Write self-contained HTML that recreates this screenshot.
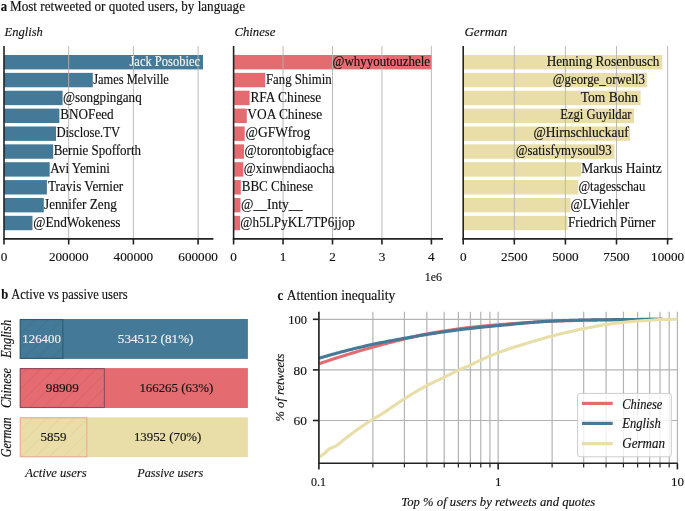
<!DOCTYPE html>
<html><head><meta charset="utf-8"><title>Retweet language figure</title>
<style>
html,body{margin:0;padding:0;background:#ffffff;}
body{width:685px;height:511px;overflow:hidden;}
svg{display:block;font-family:"Liberation Serif","Noto Serif CJK SC",serif;}
</style></head><body>
<svg width="685" height="511" viewBox="0 0 685 511">
<rect width="685" height="511" fill="#ffffff"/>
<text x="0.80" y="11.00" font-size="14.0" text-anchor="start" font-weight="bold" fill="#111111" stroke="#111111" stroke-width="0.15" textLength="6.40" lengthAdjust="spacingAndGlyphs">a</text>
<text x="10.00" y="11.00" font-size="14.0" text-anchor="start" fill="#111111" stroke="#111111" stroke-width="0.15" textLength="235.00" lengthAdjust="spacingAndGlyphs">Most retweeted or quoted users, by language</text>
<text x="4.60" y="35.90" font-size="13.4" text-anchor="start" font-style="italic" fill="#111111" stroke="#111111" stroke-width="0.15" textLength="38.30" lengthAdjust="spacingAndGlyphs">English</text>
<rect x="4.00" y="55.00" width="199.00" height="14.4" fill="#447a97"/>
<rect x="4.00" y="72.87" width="88.80" height="14.4" fill="#447a97"/>
<rect x="4.00" y="90.74" width="58.60" height="14.4" fill="#447a97"/>
<rect x="4.00" y="108.61" width="55.40" height="14.4" fill="#447a97"/>
<rect x="4.00" y="126.48" width="52.00" height="14.4" fill="#447a97"/>
<rect x="4.00" y="144.35" width="49.20" height="14.4" fill="#447a97"/>
<rect x="4.00" y="162.22" width="45.70" height="14.4" fill="#447a97"/>
<rect x="4.00" y="180.09" width="42.90" height="14.4" fill="#447a97"/>
<rect x="4.00" y="197.96" width="39.80" height="14.4" fill="#447a97"/>
<rect x="4.00" y="215.83" width="28.50" height="14.4" fill="#447a97"/>
<line x1="68.70" y1="46.0" x2="68.70" y2="238.9" stroke="#b3b3b3" stroke-width="0.9"/>
<line x1="133.40" y1="46.0" x2="133.40" y2="238.9" stroke="#b3b3b3" stroke-width="0.9"/>
<line x1="198.10" y1="46.0" x2="198.10" y2="238.9" stroke="#b3b3b3" stroke-width="0.9"/>
<text x="129.50" y="65.85" font-size="14.2" text-anchor="start" fill="#f4f4f4" stroke="#f4f4f4" stroke-width="0.15" textLength="70.50" lengthAdjust="spacingAndGlyphs">Jack Posobiec</text>
<text x="93.20" y="83.72" font-size="14.2" text-anchor="start" fill="#111111" stroke="#111111" stroke-width="0.15" textLength="75.70" lengthAdjust="spacingAndGlyphs">James Melville</text>
<text x="62.90" y="101.59" font-size="14.2" text-anchor="start" fill="#111111" stroke="#111111" stroke-width="0.15" textLength="78.80" lengthAdjust="spacingAndGlyphs">@songpinganq</text>
<text x="60.30" y="119.46" font-size="14.2" text-anchor="start" fill="#111111" stroke="#111111" stroke-width="0.15" textLength="53.40" lengthAdjust="spacingAndGlyphs">BNOFeed</text>
<text x="56.40" y="137.33" font-size="14.2" text-anchor="start" fill="#111111" stroke="#111111" stroke-width="0.15" textLength="63.80" lengthAdjust="spacingAndGlyphs">Disclose.TV</text>
<text x="53.70" y="155.20" font-size="14.2" text-anchor="start" fill="#111111" stroke="#111111" stroke-width="0.15" textLength="87.30" lengthAdjust="spacingAndGlyphs">Bernie Spofforth</text>
<text x="50.30" y="173.07" font-size="14.2" text-anchor="start" fill="#111111" stroke="#111111" stroke-width="0.15" textLength="59.70" lengthAdjust="spacingAndGlyphs">Avi Yemini</text>
<text x="48.00" y="190.94" font-size="14.2" text-anchor="start" fill="#111111" stroke="#111111" stroke-width="0.15" textLength="75.20" lengthAdjust="spacingAndGlyphs">Travis Vernier</text>
<text x="44.00" y="208.81" font-size="14.2" text-anchor="start" fill="#111111" stroke="#111111" stroke-width="0.15" textLength="72.90" lengthAdjust="spacingAndGlyphs">Jennifer Zeng</text>
<text x="33.20" y="226.68" font-size="14.2" text-anchor="start" fill="#111111" stroke="#111111" stroke-width="0.15" textLength="87.30" lengthAdjust="spacingAndGlyphs">@EndWokeness</text>
<line x1="4.00" y1="46.0" x2="4.00" y2="239.70000000000002" stroke="#222222" stroke-width="1.6"/>
<line x1="3.20" y1="238.9" x2="213.40" y2="238.9" stroke="#222222" stroke-width="1.6"/>
<line x1="4.00" y1="238.9" x2="4.00" y2="244.5" stroke="#222222" stroke-width="1.6"/>
<text x="4.00" y="261.30" font-size="13.0" text-anchor="middle" fill="#111111" stroke="#111111" stroke-width="0.15" textLength="6.60" lengthAdjust="spacingAndGlyphs">0</text>
<line x1="68.70" y1="238.9" x2="68.70" y2="244.5" stroke="#222222" stroke-width="1.6"/>
<text x="68.70" y="261.30" font-size="13.0" text-anchor="middle" fill="#111111" stroke="#111111" stroke-width="0.15" textLength="39.60" lengthAdjust="spacingAndGlyphs">200000</text>
<line x1="133.40" y1="238.9" x2="133.40" y2="244.5" stroke="#222222" stroke-width="1.6"/>
<text x="133.40" y="261.30" font-size="13.0" text-anchor="middle" fill="#111111" stroke="#111111" stroke-width="0.15" textLength="39.60" lengthAdjust="spacingAndGlyphs">400000</text>
<line x1="198.10" y1="238.9" x2="198.10" y2="244.5" stroke="#222222" stroke-width="1.6"/>
<text x="198.10" y="261.30" font-size="13.0" text-anchor="middle" fill="#111111" stroke="#111111" stroke-width="0.15" textLength="39.60" lengthAdjust="spacingAndGlyphs">600000</text>
<text x="234.40" y="35.90" font-size="13.4" text-anchor="start" font-style="italic" fill="#111111" stroke="#111111" stroke-width="0.15" textLength="41.10" lengthAdjust="spacingAndGlyphs">Chinese</text>
<rect x="233.60" y="55.00" width="198.40" height="14.4" fill="#e46b70"/>
<rect x="233.60" y="72.87" width="31.60" height="14.4" fill="#e46b70"/>
<rect x="233.60" y="90.74" width="16.00" height="14.4" fill="#e46b70"/>
<rect x="233.60" y="108.61" width="13.20" height="14.4" fill="#e46b70"/>
<rect x="233.60" y="126.48" width="11.10" height="14.4" fill="#e46b70"/>
<rect x="233.60" y="144.35" width="10.40" height="14.4" fill="#e46b70"/>
<rect x="233.60" y="162.22" width="9.70" height="14.4" fill="#e46b70"/>
<rect x="233.60" y="180.09" width="7.20" height="14.4" fill="#e46b70"/>
<rect x="233.60" y="197.96" width="6.90" height="14.4" fill="#e46b70"/>
<rect x="233.60" y="215.83" width="6.60" height="14.4" fill="#e46b70"/>
<line x1="283.05" y1="46.0" x2="283.05" y2="238.9" stroke="#b3b3b3" stroke-width="0.9"/>
<line x1="332.50" y1="46.0" x2="332.50" y2="238.9" stroke="#b3b3b3" stroke-width="0.9"/>
<line x1="381.95" y1="46.0" x2="381.95" y2="238.9" stroke="#b3b3b3" stroke-width="0.9"/>
<line x1="431.40" y1="46.0" x2="431.40" y2="238.9" stroke="#b3b3b3" stroke-width="0.9"/>
<text x="332.60" y="65.85" font-size="14.2" text-anchor="start" fill="#111111" stroke="#111111" stroke-width="0.15" textLength="97.40" lengthAdjust="spacingAndGlyphs">@whyyoutouzhele</text>
<text x="266.00" y="83.72" font-size="14.2" text-anchor="start" fill="#111111" stroke="#111111" stroke-width="0.15" textLength="65.70" lengthAdjust="spacingAndGlyphs">Fang Shimin</text>
<text x="250.40" y="101.59" font-size="14.2" text-anchor="start" fill="#111111" stroke="#111111" stroke-width="0.15" textLength="70.80" lengthAdjust="spacingAndGlyphs">RFA Chinese</text>
<text x="247.30" y="119.46" font-size="14.2" text-anchor="start" fill="#111111" stroke="#111111" stroke-width="0.15" textLength="74.80" lengthAdjust="spacingAndGlyphs">VOA Chinese</text>
<text x="245.50" y="137.33" font-size="14.2" text-anchor="start" fill="#111111" stroke="#111111" stroke-width="0.15" textLength="64.80" lengthAdjust="spacingAndGlyphs">@GFWfrog</text>
<text x="244.60" y="155.20" font-size="14.2" text-anchor="start" fill="#111111" stroke="#111111" stroke-width="0.15" textLength="89.40" lengthAdjust="spacingAndGlyphs">@torontobigface</text>
<text x="243.80" y="173.07" font-size="14.2" text-anchor="start" fill="#111111" stroke="#111111" stroke-width="0.15" textLength="90.70" lengthAdjust="spacingAndGlyphs">@xinwendiaocha</text>
<text x="241.70" y="190.94" font-size="14.2" text-anchor="start" fill="#111111" stroke="#111111" stroke-width="0.15" textLength="71.30" lengthAdjust="spacingAndGlyphs">BBC Chinese</text>
<text x="241.10" y="208.81" font-size="14.2" text-anchor="start" fill="#111111" stroke="#111111" stroke-width="0.15" textLength="61.30" lengthAdjust="spacingAndGlyphs">@__Inty__</text>
<text x="240.30" y="226.68" font-size="14.2" text-anchor="start" fill="#111111" stroke="#111111" stroke-width="0.15" textLength="114.60" lengthAdjust="spacingAndGlyphs">@h5LPyKL7TP6jjop</text>
<line x1="233.60" y1="46.0" x2="233.60" y2="239.70000000000002" stroke="#222222" stroke-width="1.6"/>
<line x1="232.80" y1="238.9" x2="443.00" y2="238.9" stroke="#222222" stroke-width="1.6"/>
<line x1="233.60" y1="238.9" x2="233.60" y2="244.5" stroke="#222222" stroke-width="1.6"/>
<text x="233.60" y="261.30" font-size="13.0" text-anchor="middle" fill="#111111" stroke="#111111" stroke-width="0.15" textLength="6.60" lengthAdjust="spacingAndGlyphs">0</text>
<line x1="283.05" y1="238.9" x2="283.05" y2="244.5" stroke="#222222" stroke-width="1.6"/>
<text x="283.05" y="261.30" font-size="13.0" text-anchor="middle" fill="#111111" stroke="#111111" stroke-width="0.15" textLength="6.60" lengthAdjust="spacingAndGlyphs">1</text>
<line x1="332.50" y1="238.9" x2="332.50" y2="244.5" stroke="#222222" stroke-width="1.6"/>
<text x="332.50" y="261.30" font-size="13.0" text-anchor="middle" fill="#111111" stroke="#111111" stroke-width="0.15" textLength="6.60" lengthAdjust="spacingAndGlyphs">2</text>
<line x1="381.95" y1="238.9" x2="381.95" y2="244.5" stroke="#222222" stroke-width="1.6"/>
<text x="381.95" y="261.30" font-size="13.0" text-anchor="middle" fill="#111111" stroke="#111111" stroke-width="0.15" textLength="6.60" lengthAdjust="spacingAndGlyphs">3</text>
<line x1="431.40" y1="238.9" x2="431.40" y2="244.5" stroke="#222222" stroke-width="1.6"/>
<text x="431.40" y="261.30" font-size="13.0" text-anchor="middle" fill="#111111" stroke="#111111" stroke-width="0.15" textLength="6.60" lengthAdjust="spacingAndGlyphs">4</text>
<text x="464.40" y="35.90" font-size="13.4" text-anchor="start" font-style="italic" fill="#111111" stroke="#111111" stroke-width="0.15" textLength="42.90" lengthAdjust="spacingAndGlyphs">German</text>
<rect x="463.20" y="55.00" width="199.00" height="14.4" fill="#e9dea8"/>
<rect x="463.20" y="72.87" width="183.70" height="14.4" fill="#e9dea8"/>
<rect x="463.20" y="90.74" width="177.40" height="14.4" fill="#e9dea8"/>
<rect x="463.20" y="108.61" width="170.80" height="14.4" fill="#e9dea8"/>
<rect x="463.20" y="126.48" width="166.80" height="14.4" fill="#e9dea8"/>
<rect x="463.20" y="144.35" width="151.30" height="14.4" fill="#e9dea8"/>
<rect x="463.20" y="162.22" width="117.80" height="14.4" fill="#e9dea8"/>
<rect x="463.20" y="180.09" width="115.00" height="14.4" fill="#e9dea8"/>
<rect x="463.20" y="197.96" width="107.30" height="14.4" fill="#e9dea8"/>
<rect x="463.20" y="215.83" width="104.30" height="14.4" fill="#e9dea8"/>
<line x1="514.30" y1="46.0" x2="514.30" y2="238.9" stroke="#b3b3b3" stroke-width="0.9"/>
<line x1="565.40" y1="46.0" x2="565.40" y2="238.9" stroke="#b3b3b3" stroke-width="0.9"/>
<line x1="616.50" y1="46.0" x2="616.50" y2="238.9" stroke="#b3b3b3" stroke-width="0.9"/>
<line x1="667.60" y1="46.0" x2="667.60" y2="238.9" stroke="#b3b3b3" stroke-width="0.9"/>
<text x="546.70" y="65.85" font-size="14.2" text-anchor="start" fill="#111111" stroke="#111111" stroke-width="0.15" textLength="112.80" lengthAdjust="spacingAndGlyphs">Henning Rosenbusch</text>
<text x="552.70" y="83.72" font-size="14.2" text-anchor="start" fill="#111111" stroke="#111111" stroke-width="0.15" textLength="92.30" lengthAdjust="spacingAndGlyphs">@george_orwell3</text>
<text x="580.80" y="101.59" font-size="14.2" text-anchor="start" fill="#111111" stroke="#111111" stroke-width="0.15" textLength="57.20" lengthAdjust="spacingAndGlyphs">Tom Bohn</text>
<text x="560.20" y="119.46" font-size="14.2" text-anchor="start" fill="#111111" stroke="#111111" stroke-width="0.15" textLength="71.30" lengthAdjust="spacingAndGlyphs">Ezgi Guyildar</text>
<text x="533.40" y="137.33" font-size="14.2" text-anchor="start" fill="#111111" stroke="#111111" stroke-width="0.15" textLength="95.30" lengthAdjust="spacingAndGlyphs">@Hirnschluckauf</text>
<text x="515.80" y="155.20" font-size="14.2" text-anchor="start" fill="#111111" stroke="#111111" stroke-width="0.15" textLength="95.80" lengthAdjust="spacingAndGlyphs">@satisfymysoul93</text>
<text x="581.30" y="173.07" font-size="14.2" text-anchor="start" fill="#111111" stroke="#111111" stroke-width="0.15" textLength="80.40" lengthAdjust="spacingAndGlyphs">Markus Haintz</text>
<text x="578.40" y="190.94" font-size="14.2" text-anchor="start" fill="#111111" stroke="#111111" stroke-width="0.15" textLength="66.90" lengthAdjust="spacingAndGlyphs">@tagesschau</text>
<text x="570.50" y="208.81" font-size="14.2" text-anchor="start" fill="#111111" stroke="#111111" stroke-width="0.15" textLength="58.70" lengthAdjust="spacingAndGlyphs">@LViehler</text>
<text x="567.90" y="226.68" font-size="14.2" text-anchor="start" fill="#111111" stroke="#111111" stroke-width="0.15" textLength="87.60" lengthAdjust="spacingAndGlyphs">Friedrich Pürner</text>
<line x1="463.20" y1="46.0" x2="463.20" y2="239.70000000000002" stroke="#222222" stroke-width="1.6"/>
<line x1="462.40" y1="238.9" x2="672.60" y2="238.9" stroke="#222222" stroke-width="1.6"/>
<line x1="463.20" y1="238.9" x2="463.20" y2="244.5" stroke="#222222" stroke-width="1.6"/>
<text x="463.20" y="261.30" font-size="13.0" text-anchor="middle" fill="#111111" stroke="#111111" stroke-width="0.15" textLength="6.60" lengthAdjust="spacingAndGlyphs">0</text>
<line x1="514.30" y1="238.9" x2="514.30" y2="244.5" stroke="#222222" stroke-width="1.6"/>
<text x="514.30" y="261.30" font-size="13.0" text-anchor="middle" fill="#111111" stroke="#111111" stroke-width="0.15" textLength="26.40" lengthAdjust="spacingAndGlyphs">2500</text>
<line x1="565.40" y1="238.9" x2="565.40" y2="244.5" stroke="#222222" stroke-width="1.6"/>
<text x="565.40" y="261.30" font-size="13.0" text-anchor="middle" fill="#111111" stroke="#111111" stroke-width="0.15" textLength="26.40" lengthAdjust="spacingAndGlyphs">5000</text>
<line x1="616.50" y1="238.9" x2="616.50" y2="244.5" stroke="#222222" stroke-width="1.6"/>
<text x="616.50" y="261.30" font-size="13.0" text-anchor="middle" fill="#111111" stroke="#111111" stroke-width="0.15" textLength="26.40" lengthAdjust="spacingAndGlyphs">7500</text>
<line x1="667.60" y1="238.9" x2="667.60" y2="244.5" stroke="#222222" stroke-width="1.6"/>
<text x="667.60" y="261.30" font-size="13.0" text-anchor="middle" fill="#111111" stroke="#111111" stroke-width="0.15" textLength="33.00" lengthAdjust="spacingAndGlyphs">10000</text>
<text x="442.00" y="281.00" font-size="13.0" text-anchor="end" fill="#111111" stroke="#111111" stroke-width="0.15" textLength="17.20" lengthAdjust="spacingAndGlyphs">1e6</text>
<text x="1.20" y="299.40" font-size="14.0" text-anchor="start" font-weight="bold" fill="#111111" stroke="#111111" stroke-width="0.15" textLength="7.00" lengthAdjust="spacingAndGlyphs">b</text>
<text x="11.30" y="299.40" font-size="14.0" text-anchor="start" fill="#111111" stroke="#111111" stroke-width="0.15" textLength="116.20" lengthAdjust="spacingAndGlyphs">Active vs passive users</text>
<defs>
<clipPath id="clipEnglish"><rect x="19.8" y="319.0" width="43.62" height="39.9"/></clipPath>
<clipPath id="clipChinese"><rect x="19.8" y="368.1" width="85.08" height="39.9"/></clipPath>
<clipPath id="clipGerman"><rect x="19.8" y="417.3" width="67.46" height="39.9"/></clipPath>
</defs>
<rect x="19.8" y="319.0" width="228.1" height="39.9" fill="#447a97"/>
<path d="M-18.30,358.90L21.60,319.00M-4.50,358.90L35.40,319.00M9.30,358.90L49.20,319.00M23.10,358.90L63.00,319.00M36.90,358.90L76.80,319.00M50.70,358.90L90.60,319.00M64.50,358.90L104.40,319.00" stroke="#2f5d75" stroke-opacity="0.22" stroke-width="0.9" fill="none" clip-path="url(#clipEnglish)"/>
<rect x="20.30" y="319.50" width="42.62" height="38.9" fill="none" stroke="#2f5d75" stroke-width="1.1"/>
<text x="41.61" y="342.70" font-size="13.4" text-anchor="middle" fill="#f2f2f2" stroke="#f2f2f2" stroke-width="0.15" textLength="38.60" lengthAdjust="spacingAndGlyphs">126400</text>
<text x="155.66" y="342.70" font-size="13.4" text-anchor="middle" fill="#f2f2f2" stroke="#f2f2f2" stroke-width="0.15" textLength="75.60" lengthAdjust="spacingAndGlyphs">534512 (81%)</text>
<text x="11.00" y="338.90" font-size="13.6" text-anchor="middle" font-style="italic" fill="#111111" stroke="#111111" stroke-width="0.15" textLength="38.10" lengthAdjust="spacingAndGlyphs" transform="rotate(-90 11.0 338.9)">English</text>
<rect x="19.8" y="368.1" width="228.1" height="39.9" fill="#e46b70"/>
<path d="M-12.20,408.00L27.70,368.10M1.60,408.00L41.50,368.10M15.40,408.00L55.30,368.10M29.20,408.00L69.10,368.10M43.00,408.00L82.90,368.10M56.80,408.00L96.70,368.10M70.60,408.00L110.50,368.10M84.40,408.00L124.30,368.10M98.20,408.00L138.10,368.10" stroke="#96485f" stroke-opacity="0.22" stroke-width="0.9" fill="none" clip-path="url(#clipChinese)"/>
<rect x="20.30" y="368.60" width="84.08" height="38.9" fill="none" stroke="#96485f" stroke-width="1.1"/>
<text x="62.34" y="391.80" font-size="13.4" text-anchor="middle" fill="#111111" stroke="#111111" stroke-width="0.15" textLength="33.00" lengthAdjust="spacingAndGlyphs">98909</text>
<text x="176.39" y="391.80" font-size="13.4" text-anchor="middle" fill="#111111" stroke="#111111" stroke-width="0.15" textLength="74.00" lengthAdjust="spacingAndGlyphs">166265 (63%)</text>
<text x="11.00" y="388.00" font-size="13.6" text-anchor="middle" font-style="italic" fill="#111111" stroke="#111111" stroke-width="0.15" textLength="39.90" lengthAdjust="spacingAndGlyphs" transform="rotate(-90 11.0 388.0)">Chinese</text>
<rect x="19.8" y="417.3" width="228.1" height="39.9" fill="#e9dea8"/>
<path d="M-20.00,457.20L19.90,417.30M-6.20,457.20L33.70,417.30M7.60,457.20L47.50,417.30M21.40,457.20L61.30,417.30M35.20,457.20L75.10,417.30M49.00,457.20L88.90,417.30M62.80,457.20L102.70,417.30M76.60,457.20L116.50,417.30" stroke="#e8ac98" stroke-opacity="0.3" stroke-width="0.9" fill="none" clip-path="url(#clipGerman)"/>
<rect x="20.30" y="417.80" width="66.46" height="38.9" fill="none" stroke="#e8ac98" stroke-width="1.1"/>
<text x="53.53" y="441.20" font-size="13.4" text-anchor="middle" fill="#111111" stroke="#111111" stroke-width="0.15" textLength="26.00" lengthAdjust="spacingAndGlyphs">5859</text>
<text x="167.58" y="441.20" font-size="13.4" text-anchor="middle" fill="#111111" stroke="#111111" stroke-width="0.15" textLength="67.40" lengthAdjust="spacingAndGlyphs">13952 (70%)</text>
<text x="11.00" y="437.40" font-size="13.6" text-anchor="middle" font-style="italic" fill="#111111" stroke="#111111" stroke-width="0.15" textLength="39.90" lengthAdjust="spacingAndGlyphs" transform="rotate(-90 11.0 437.4)">German</text>
<text x="56.00" y="477.00" font-size="13.4" text-anchor="middle" font-style="italic" fill="#111111" stroke="#111111" stroke-width="0.15" textLength="61.30" lengthAdjust="spacingAndGlyphs">Active users</text>
<text x="170.20" y="477.00" font-size="13.4" text-anchor="middle" font-style="italic" fill="#111111" stroke="#111111" stroke-width="0.15" textLength="66.00" lengthAdjust="spacingAndGlyphs">Passive users</text>
<text x="277.40" y="300.00" font-size="14.0" text-anchor="start" font-weight="bold" fill="#111111" stroke="#111111" stroke-width="0.15" textLength="5.60" lengthAdjust="spacingAndGlyphs">c</text>
<text x="286.70" y="300.00" font-size="14.0" text-anchor="start" fill="#111111" stroke="#111111" stroke-width="0.15" textLength="108.50" lengthAdjust="spacingAndGlyphs">Attention inequality</text>
<line x1="318.90" y1="311.7" x2="318.90" y2="463.2" stroke="#b3b3b3" stroke-width="1.2"/>
<line x1="372.86" y1="311.7" x2="372.86" y2="463.2" stroke="#b3b3b3" stroke-width="1.2"/>
<line x1="404.42" y1="311.7" x2="404.42" y2="463.2" stroke="#b3b3b3" stroke-width="1.2"/>
<line x1="426.82" y1="311.7" x2="426.82" y2="463.2" stroke="#b3b3b3" stroke-width="1.2"/>
<line x1="444.19" y1="311.7" x2="444.19" y2="463.2" stroke="#b3b3b3" stroke-width="1.2"/>
<line x1="458.38" y1="311.7" x2="458.38" y2="463.2" stroke="#b3b3b3" stroke-width="1.2"/>
<line x1="470.38" y1="311.7" x2="470.38" y2="463.2" stroke="#b3b3b3" stroke-width="1.2"/>
<line x1="480.78" y1="311.7" x2="480.78" y2="463.2" stroke="#b3b3b3" stroke-width="1.2"/>
<line x1="489.95" y1="311.7" x2="489.95" y2="463.2" stroke="#b3b3b3" stroke-width="1.2"/>
<line x1="498.15" y1="311.7" x2="498.15" y2="463.2" stroke="#b3b3b3" stroke-width="1.2"/>
<line x1="552.11" y1="311.7" x2="552.11" y2="463.2" stroke="#b3b3b3" stroke-width="1.2"/>
<line x1="583.67" y1="311.7" x2="583.67" y2="463.2" stroke="#b3b3b3" stroke-width="1.2"/>
<line x1="606.07" y1="311.7" x2="606.07" y2="463.2" stroke="#b3b3b3" stroke-width="1.2"/>
<line x1="623.44" y1="311.7" x2="623.44" y2="463.2" stroke="#b3b3b3" stroke-width="1.2"/>
<line x1="637.63" y1="311.7" x2="637.63" y2="463.2" stroke="#b3b3b3" stroke-width="1.2"/>
<line x1="649.63" y1="311.7" x2="649.63" y2="463.2" stroke="#b3b3b3" stroke-width="1.2"/>
<line x1="660.03" y1="311.7" x2="660.03" y2="463.2" stroke="#b3b3b3" stroke-width="1.2"/>
<line x1="669.20" y1="311.7" x2="669.20" y2="463.2" stroke="#b3b3b3" stroke-width="1.2"/>
<line x1="677.40" y1="311.7" x2="677.40" y2="463.2" stroke="#b3b3b3" stroke-width="1.2"/>
<line x1="318.9" y1="420.50" x2="677.4" y2="420.50" stroke="#b3b3b3" stroke-width="1.2"/>
<line x1="318.9" y1="369.90" x2="677.4" y2="369.90" stroke="#b3b3b3" stroke-width="1.2"/>
<line x1="318.9" y1="319.30" x2="677.4" y2="319.30" stroke="#b3b3b3" stroke-width="1.2"/>
<path d="M318.90,363.83L320.05,363.43L321.20,363.04L322.35,362.65L323.50,362.26L324.65,361.88L325.80,361.49L326.95,361.11L328.10,360.73L329.25,360.35L330.40,359.97L331.56,359.59L332.71,359.22L333.86,358.85L335.01,358.47L336.16,358.10L337.31,357.74L338.46,357.37L339.61,357.00L340.76,356.64L341.91,356.28L343.06,355.92L344.21,355.56L345.36,355.20L346.51,354.85L347.66,354.49L348.81,354.14L349.96,353.79L351.11,353.44L352.26,353.10L353.41,352.75L354.57,352.40L355.72,352.06L356.87,351.72L358.02,351.38L359.17,351.04L360.32,350.71L361.47,350.37L362.62,350.04L363.77,349.70L364.92,349.37L366.07,349.04L367.22,348.72L368.37,348.39L369.52,348.06L370.67,347.74L371.82,347.42L372.97,347.10L374.12,346.78L375.27,346.46L376.42,346.15L377.57,345.84L378.73,345.53L379.88,345.22L381.03,344.91L382.18,344.61L383.33,344.30L384.48,344.00L385.63,343.70L386.78,343.41L387.93,343.11L389.08,342.82L390.23,342.52L391.38,342.23L392.53,341.94L393.68,341.66L394.83,341.37L395.98,341.09L397.13,340.80L398.28,340.52L399.43,340.24L400.58,339.96L401.73,339.68L402.89,339.40L404.04,339.13L405.19,338.85L406.34,338.58L407.49,338.30L408.64,338.02L409.79,337.75L410.94,337.47L412.09,337.20L413.24,336.93L414.39,336.66L415.54,336.39L416.69,336.12L417.84,335.86L418.99,335.60L420.14,335.35L421.29,335.10L422.44,334.85L423.59,334.62L424.74,334.38L425.90,334.15L427.05,333.93L428.20,333.71L429.35,333.50L430.50,333.30L431.65,333.09L432.80,332.89L433.95,332.70L435.10,332.50L436.25,332.32L437.40,332.13L438.55,331.94L439.70,331.76L440.85,331.58L442.00,331.40L443.15,331.22L444.30,331.05L445.45,330.87L446.60,330.69L447.75,330.52L448.90,330.34L450.06,330.17L451.21,330.00L452.36,329.82L453.51,329.65L454.66,329.48L455.81,329.31L456.96,329.15L458.11,328.98L459.26,328.82L460.41,328.66L461.56,328.50L462.71,328.35L463.86,328.20L465.01,328.05L466.16,327.90L467.31,327.76L468.46,327.62L469.61,327.48L470.76,327.35L471.91,327.22L473.06,327.10L474.22,326.97L475.37,326.85L476.52,326.72L477.67,326.60L478.82,326.49L479.97,326.37L481.12,326.25L482.27,326.14L483.42,326.03L484.57,325.92L485.72,325.81L486.87,325.70L488.02,325.60L489.17,325.50L490.32,325.39L491.47,325.29L492.62,325.19L493.77,325.10L494.92,325.00L496.07,324.91L497.23,324.81L498.38,324.72L499.53,324.63L500.68,324.54L501.83,324.45L502.98,324.36L504.13,324.27L505.28,324.17L506.43,324.08L507.58,323.99L508.73,323.90L509.88,323.82L511.03,323.73L512.18,323.64L513.33,323.55L514.48,323.46L515.63,323.38L516.78,323.29L517.93,323.20L519.08,323.12L520.23,323.04L521.39,322.95L522.54,322.87L523.69,322.79L524.84,322.71L525.99,322.63L527.14,322.55L528.29,322.47L529.44,322.40L530.59,322.32L531.74,322.25L532.89,322.18L534.04,322.11L535.19,322.04L536.34,321.97L537.49,321.90L538.64,321.84L539.79,321.77L540.94,321.71L542.09,321.65L543.24,321.59L544.39,321.53L545.55,321.48L546.70,321.42L547.85,321.37L549.00,321.32L550.15,321.27L551.30,321.23L552.45,321.18L553.60,321.14L554.75,321.10L555.90,321.06L557.05,321.02L558.20,320.98L559.35,320.94L560.50,320.90L561.65,320.87L562.80,320.83L563.95,320.80L565.10,320.76L566.25,320.73L567.40,320.70L568.56,320.67L569.71,320.64L570.86,320.61L572.01,320.58L573.16,320.55L574.31,320.52L575.46,320.49L576.61,320.47L577.76,320.44L578.91,320.41L580.06,320.39L581.21,320.36L582.36,320.34L583.51,320.32L584.66,320.29L585.81,320.27L586.96,320.25L588.11,320.22L589.26,320.20L590.41,320.18L591.56,320.16L592.72,320.14L593.87,320.12L595.02,320.10L596.17,320.08L597.32,320.06L598.47,320.04L599.62,320.02L600.77,320.00L601.92,319.98L603.07,319.96L604.22,319.94L605.37,319.93L606.52,319.91L607.67,319.89L608.82,319.87L609.97,319.86L611.12,319.84L612.27,319.82L613.42,319.81L614.57,319.79L615.72,319.78L616.88,319.76L618.03,319.75L619.18,319.73L620.33,319.72L621.48,319.70L622.63,319.69L623.78,319.68L624.93,319.66L626.08,319.65L627.23,319.63L628.38,319.62L629.53,319.61L630.68,319.60L631.83,319.58L632.98,319.57L634.13,319.56L635.28,319.54L636.43,319.53L637.58,319.52L638.73,319.51L639.89,319.50L641.04,319.48L642.19,319.47L643.34,319.46L644.49,319.45L645.64,319.44L646.79,319.43L647.94,319.42L649.09,319.41L650.24,319.40L651.39,319.39L652.54,319.38L653.69,319.37L654.84,319.36L655.99,319.35L657.14,319.34L658.29,319.33L659.44,319.32L660.59,319.32L661.74,319.31L662.89,319.30" stroke="#e46b70" stroke-width="3.1" fill="none" stroke-linecap="butt" stroke-linejoin="round"/>
<path d="M318.90,358.26L320.05,357.92L321.20,357.58L322.35,357.24L323.50,356.90L324.65,356.57L325.80,356.23L326.95,355.90L328.10,355.57L329.25,355.25L330.40,354.92L331.56,354.60L332.71,354.28L333.86,353.96L335.01,353.64L336.16,353.33L337.31,353.02L338.46,352.71L339.61,352.40L340.76,352.09L341.91,351.79L343.06,351.49L344.21,351.19L345.36,350.89L346.51,350.59L347.66,350.30L348.81,350.00L349.96,349.71L351.11,349.43L352.26,349.14L353.41,348.86L354.57,348.57L355.72,348.29L356.87,348.01L358.02,347.74L359.17,347.46L360.32,347.19L361.47,346.92L362.62,346.65L363.77,346.39L364.92,346.12L366.07,345.86L367.22,345.60L368.37,345.34L369.52,345.08L370.67,344.83L371.82,344.57L372.97,344.32L374.12,344.07L375.27,343.83L376.42,343.59L377.57,343.35L378.73,343.11L379.88,342.87L381.03,342.64L382.18,342.41L383.33,342.19L384.48,341.96L385.63,341.74L386.78,341.52L387.93,341.30L389.08,341.08L390.23,340.86L391.38,340.65L392.53,340.43L393.68,340.22L394.83,340.01L395.98,339.80L397.13,339.59L398.28,339.38L399.43,339.17L400.58,338.97L401.73,338.76L402.89,338.55L404.04,338.34L405.19,338.14L406.34,337.93L407.49,337.73L408.64,337.53L409.79,337.33L410.94,337.13L412.09,336.93L413.24,336.73L414.39,336.53L415.54,336.34L416.69,336.14L417.84,335.95L418.99,335.76L420.14,335.57L421.29,335.38L422.44,335.19L423.59,335.00L424.74,334.81L425.90,334.63L427.05,334.44L428.20,334.26L429.35,334.08L430.50,333.89L431.65,333.71L432.80,333.53L433.95,333.35L435.10,333.17L436.25,333.00L437.40,332.82L438.55,332.65L439.70,332.48L440.85,332.31L442.00,332.14L443.15,331.97L444.30,331.81L445.45,331.65L446.60,331.48L447.75,331.32L448.90,331.16L450.06,331.00L451.21,330.84L452.36,330.69L453.51,330.53L454.66,330.37L455.81,330.22L456.96,330.07L458.11,329.92L459.26,329.77L460.41,329.62L461.56,329.47L462.71,329.33L463.86,329.18L465.01,329.04L466.16,328.90L467.31,328.76L468.46,328.63L469.61,328.50L470.76,328.36L471.91,328.24L473.06,328.11L474.22,327.98L475.37,327.86L476.52,327.74L477.67,327.61L478.82,327.49L479.97,327.38L481.12,327.26L482.27,327.14L483.42,327.03L484.57,326.91L485.72,326.80L486.87,326.69L488.02,326.58L489.17,326.47L490.32,326.36L491.47,326.25L492.62,326.14L493.77,326.03L494.92,325.92L496.07,325.82L497.23,325.71L498.38,325.60L499.53,325.50L500.68,325.39L501.83,325.28L502.98,325.17L504.13,325.06L505.28,324.95L506.43,324.84L507.58,324.72L508.73,324.61L509.88,324.50L511.03,324.38L512.18,324.27L513.33,324.16L514.48,324.05L515.63,323.93L516.78,323.82L517.93,323.71L519.08,323.60L520.23,323.49L521.39,323.38L522.54,323.27L523.69,323.16L524.84,323.05L525.99,322.95L527.14,322.84L528.29,322.74L529.44,322.64L530.59,322.54L531.74,322.44L532.89,322.34L534.04,322.25L535.19,322.15L536.34,322.06L537.49,321.97L538.64,321.89L539.79,321.80L540.94,321.72L542.09,321.64L543.24,321.56L544.39,321.49L545.55,321.42L546.70,321.35L547.85,321.28L549.00,321.22L550.15,321.16L551.30,321.11L552.45,321.06L553.60,321.01L554.75,320.96L555.90,320.91L557.05,320.86L558.20,320.81L559.35,320.77L560.50,320.72L561.65,320.68L562.80,320.64L563.95,320.60L565.10,320.55L566.25,320.52L567.40,320.48L568.56,320.44L569.71,320.40L570.86,320.37L572.01,320.34L573.16,320.30L574.31,320.27L575.46,320.24L576.61,320.21L577.76,320.18L578.91,320.16L580.06,320.13L581.21,320.11L582.36,320.08L583.51,320.06L584.66,320.04L585.81,320.02L586.96,320.00L588.11,319.98L589.26,319.96L590.41,319.94L591.56,319.92L592.72,319.91L593.87,319.89L595.02,319.87L596.17,319.85L597.32,319.84L598.47,319.82L599.62,319.81L600.77,319.79L601.92,319.78L603.07,319.76L604.22,319.75L605.37,319.73L606.52,319.72L607.67,319.71L608.82,319.69L609.97,319.68L611.12,319.67L612.27,319.66L613.42,319.65L614.57,319.63L615.72,319.62L616.88,319.61L618.03,319.60L619.18,319.59L620.33,319.58L621.48,319.57L622.63,319.56L623.78,319.55L624.93,319.54L626.08,319.53L627.23,319.52L628.38,319.51L629.53,319.50L630.68,319.49L631.83,319.48L632.98,319.47L634.13,319.47L635.28,319.46L636.43,319.45L637.58,319.44L638.73,319.43L639.89,319.42L641.04,319.42L642.19,319.41L643.34,319.40L644.49,319.39L645.64,319.38L646.79,319.38L647.94,319.37L649.09,319.36L650.24,319.36L651.39,319.35L652.54,319.34L653.69,319.34L654.84,319.33L655.99,319.33L657.14,319.32L658.29,319.32L659.44,319.31L660.59,319.31L661.74,319.30L662.89,319.30" stroke="#447a97" stroke-width="3.1" fill="none" stroke-linecap="butt" stroke-linejoin="round"/>
<path d="M318.90,456.93L320.10,456.30L321.30,455.60L322.50,454.82L323.70,453.99L324.89,453.05L326.09,451.91L327.29,450.68L328.49,449.54L329.69,448.64L330.89,448.01L332.09,447.52L333.29,447.07L334.49,446.60L335.69,446.03L336.88,445.32L338.08,444.51L339.28,443.61L340.48,442.65L341.68,441.65L342.88,440.62L344.08,439.61L345.28,438.61L346.48,437.66L347.68,436.74L348.87,435.84L350.07,434.93L351.27,434.02L352.47,433.13L353.67,432.23L354.87,431.35L356.07,430.48L357.27,429.62L358.47,428.77L359.67,427.93L360.86,427.10L362.06,426.28L363.26,425.47L364.46,424.66L365.66,423.86L366.86,423.07L368.06,422.29L369.26,421.51L370.46,420.75L371.66,419.99L372.85,419.24L374.05,418.51L375.25,417.80L376.45,417.10L377.65,416.41L378.85,415.71L380.05,415.00L381.25,414.26L382.45,413.51L383.65,412.73L384.84,411.95L386.04,411.16L387.24,410.36L388.44,409.55L389.64,408.74L390.84,407.92L392.04,407.11L393.24,406.30L394.44,405.49L395.64,404.68L396.83,403.86L398.03,403.04L399.23,402.21L400.43,401.39L401.63,400.58L402.83,399.77L404.03,398.99L405.23,398.23L406.43,397.48L407.63,396.73L408.82,395.98L410.02,395.24L411.22,394.51L412.42,393.78L413.62,393.05L414.82,392.34L416.02,391.63L417.22,390.92L418.42,390.23L419.62,389.54L420.81,388.86L422.01,388.19L423.21,387.53L424.41,386.87L425.61,386.23L426.81,385.59L428.01,384.97L429.21,384.36L430.41,383.76L431.61,383.18L432.80,382.60L434.00,382.04L435.20,381.47L436.40,380.91L437.60,380.36L438.80,379.80L440.00,379.24L441.20,378.68L442.40,378.11L443.60,377.53L444.79,376.94L445.99,376.34L447.19,375.73L448.39,375.12L449.59,374.51L450.79,373.89L451.99,373.28L453.19,372.67L454.39,372.07L455.59,371.48L456.78,370.90L457.98,370.34L459.18,369.79L460.38,369.27L461.58,368.77L462.78,368.27L463.98,367.78L465.18,367.30L466.38,366.81L467.58,366.31L468.77,365.80L469.97,365.28L471.17,364.73L472.37,364.16L473.57,363.58L474.77,362.98L475.97,362.38L477.17,361.78L478.37,361.19L479.57,360.60L480.76,360.04L481.96,359.49L483.16,358.94L484.36,358.40L485.56,357.87L486.76,357.35L487.96,356.83L489.16,356.32L490.36,355.81L491.56,355.31L492.75,354.82L493.95,354.33L495.15,353.84L496.35,353.37L497.55,352.92L498.75,352.48L499.95,352.04L501.15,351.61L502.35,351.19L503.55,350.77L504.74,350.36L505.94,349.95L507.14,349.55L508.34,349.15L509.54,348.76L510.74,348.37L511.94,347.98L513.14,347.60L514.34,347.21L515.54,346.83L516.73,346.46L517.93,346.08L519.13,345.71L520.33,345.34L521.53,344.96L522.73,344.59L523.93,344.22L525.13,343.85L526.33,343.48L527.53,343.11L528.72,342.74L529.92,342.38L531.12,342.01L532.32,341.64L533.52,341.28L534.72,340.92L535.92,340.56L537.12,340.20L538.32,339.85L539.52,339.49L540.71,339.14L541.91,338.80L543.11,338.45L544.31,338.11L545.51,337.78L546.71,337.44L547.91,337.12L549.11,336.79L550.31,336.47L551.51,336.16L552.70,335.84L553.90,335.54L555.10,335.23L556.30,334.92L557.50,334.62L558.70,334.32L559.90,334.02L561.10,333.73L562.30,333.44L563.50,333.15L564.69,332.86L565.89,332.57L567.09,332.29L568.29,332.01L569.49,331.73L570.69,331.46L571.89,331.19L573.09,330.92L574.29,330.65L575.49,330.39L576.68,330.12L577.88,329.87L579.08,329.61L580.28,329.36L581.48,329.11L582.68,328.86L583.88,328.62L585.08,328.38L586.28,328.14L587.48,327.90L588.67,327.67L589.87,327.43L591.07,327.20L592.27,326.98L593.47,326.75L594.67,326.53L595.87,326.31L597.07,326.10L598.27,325.89L599.47,325.68L600.66,325.48L601.86,325.28L603.06,325.08L604.26,324.89L605.46,324.71L606.66,324.52L607.86,324.35L609.06,324.17L610.26,324.00L611.46,323.83L612.65,323.66L613.85,323.50L615.05,323.34L616.25,323.18L617.45,323.03L618.65,322.88L619.85,322.74L621.05,322.60L622.25,322.46L623.45,322.34L624.64,322.21L625.84,322.09L627.04,321.97L628.24,321.86L629.44,321.75L630.64,321.64L631.84,321.53L633.04,321.43L634.24,321.33L635.44,321.24L636.63,321.15L637.83,321.06L639.03,320.97L640.23,320.89L641.43,320.82L642.63,320.74L643.83,320.67L645.03,320.60L646.23,320.53L647.43,320.46L648.62,320.38L649.82,320.30L651.02,320.21L652.22,320.11L653.42,320.00L654.62,319.90L655.82,319.80L657.02,319.70L658.22,319.63L659.42,319.57L660.61,319.54L661.81,319.51L663.01,319.48L664.21,319.45L665.41,319.43L666.61,319.41L667.81,319.39L669.01,319.37L670.21,319.35L671.41,319.33L672.60,319.32L673.80,319.31L675.00,319.31L676.20,319.30L677.40,319.30" stroke="#e9dea8" stroke-width="3.1" fill="none" stroke-linecap="butt" stroke-linejoin="round"/>
<line x1="318.9" y1="311.7" x2="318.9" y2="464.0" stroke="#222222" stroke-width="1.6"/>
<line x1="318.09999999999997" y1="463.2" x2="677.4" y2="463.2" stroke="#222222" stroke-width="1.6"/>
<line x1="318.90" y1="463.2" x2="318.90" y2="469.4" stroke="#222222" stroke-width="1.6"/>
<line x1="498.15" y1="463.2" x2="498.15" y2="469.4" stroke="#222222" stroke-width="1.6"/>
<line x1="677.40" y1="463.2" x2="677.40" y2="469.4" stroke="#222222" stroke-width="1.6"/>
<line x1="372.86" y1="463.2" x2="372.86" y2="467.4" stroke="#222222" stroke-width="1.2"/>
<line x1="404.42" y1="463.2" x2="404.42" y2="467.4" stroke="#222222" stroke-width="1.2"/>
<line x1="426.82" y1="463.2" x2="426.82" y2="467.4" stroke="#222222" stroke-width="1.2"/>
<line x1="444.19" y1="463.2" x2="444.19" y2="467.4" stroke="#222222" stroke-width="1.2"/>
<line x1="458.38" y1="463.2" x2="458.38" y2="467.4" stroke="#222222" stroke-width="1.2"/>
<line x1="470.38" y1="463.2" x2="470.38" y2="467.4" stroke="#222222" stroke-width="1.2"/>
<line x1="480.78" y1="463.2" x2="480.78" y2="467.4" stroke="#222222" stroke-width="1.2"/>
<line x1="489.95" y1="463.2" x2="489.95" y2="467.4" stroke="#222222" stroke-width="1.2"/>
<line x1="552.11" y1="463.2" x2="552.11" y2="467.4" stroke="#222222" stroke-width="1.2"/>
<line x1="583.67" y1="463.2" x2="583.67" y2="467.4" stroke="#222222" stroke-width="1.2"/>
<line x1="606.07" y1="463.2" x2="606.07" y2="467.4" stroke="#222222" stroke-width="1.2"/>
<line x1="623.44" y1="463.2" x2="623.44" y2="467.4" stroke="#222222" stroke-width="1.2"/>
<line x1="637.63" y1="463.2" x2="637.63" y2="467.4" stroke="#222222" stroke-width="1.2"/>
<line x1="649.63" y1="463.2" x2="649.63" y2="467.4" stroke="#222222" stroke-width="1.2"/>
<line x1="660.03" y1="463.2" x2="660.03" y2="467.4" stroke="#222222" stroke-width="1.2"/>
<line x1="669.20" y1="463.2" x2="669.20" y2="467.4" stroke="#222222" stroke-width="1.2"/>
<line x1="312.9" y1="420.50" x2="318.9" y2="420.50" stroke="#222222" stroke-width="1.6"/>
<text x="307.00" y="425.10" font-size="13.0" text-anchor="end" fill="#111111" stroke="#111111" stroke-width="0.15" textLength="13.40" lengthAdjust="spacingAndGlyphs">60</text>
<line x1="312.9" y1="369.90" x2="318.9" y2="369.90" stroke="#222222" stroke-width="1.6"/>
<text x="307.00" y="374.50" font-size="13.0" text-anchor="end" fill="#111111" stroke="#111111" stroke-width="0.15" textLength="13.40" lengthAdjust="spacingAndGlyphs">80</text>
<line x1="312.9" y1="319.30" x2="318.9" y2="319.30" stroke="#222222" stroke-width="1.6"/>
<text x="307.00" y="323.90" font-size="13.0" text-anchor="end" fill="#111111" stroke="#111111" stroke-width="0.15" textLength="18.75" lengthAdjust="spacingAndGlyphs">100</text>
<text x="318.40" y="486.40" font-size="13.0" text-anchor="middle" fill="#111111" stroke="#111111" stroke-width="0.15" textLength="15.00" lengthAdjust="spacingAndGlyphs">0.1</text>
<text x="498.15" y="486.40" font-size="13.0" text-anchor="middle" fill="#111111" stroke="#111111" stroke-width="0.15" textLength="6.50" lengthAdjust="spacingAndGlyphs">1</text>
<text x="677.40" y="486.40" font-size="13.0" text-anchor="middle" fill="#111111" stroke="#111111" stroke-width="0.15" textLength="13.00" lengthAdjust="spacingAndGlyphs">10</text>
<text x="498.30" y="506.40" font-size="12.8" text-anchor="middle" font-style="italic" fill="#111111" stroke="#111111" stroke-width="0.15" textLength="194.00" lengthAdjust="spacingAndGlyphs">Top % of users by retweets and quotes</text>
<text x="283.80" y="387.50" font-size="13.2" text-anchor="middle" font-style="italic" fill="#111111" stroke="#111111" stroke-width="0.15" textLength="68.00" lengthAdjust="spacingAndGlyphs" transform="rotate(-90 283.8 387.5)">% of retweets</text>
<rect x="577.6" y="393.4" width="93.7" height="63.4" rx="2.5" fill="#ffffff" fill-opacity="0.8" stroke="#cccccc" stroke-width="1"/>
<line x1="582" y1="403.4" x2="612.7" y2="403.4" stroke="#e46b70" stroke-width="3.2"/>
<text x="622.30" y="408.70" font-size="13.6" text-anchor="start" font-style="italic" fill="#111111" stroke="#111111" stroke-width="0.15" textLength="40.10" lengthAdjust="spacingAndGlyphs">Chinese</text>
<line x1="582" y1="423.4" x2="612.7" y2="423.4" stroke="#447a97" stroke-width="3.2"/>
<text x="622.30" y="427.90" font-size="13.6" text-anchor="start" font-style="italic" fill="#111111" stroke="#111111" stroke-width="0.15" textLength="38.50" lengthAdjust="spacingAndGlyphs">English</text>
<line x1="582" y1="443.7" x2="612.7" y2="443.7" stroke="#e9dea8" stroke-width="3.2"/>
<text x="622.30" y="448.10" font-size="13.6" text-anchor="start" font-style="italic" fill="#111111" stroke="#111111" stroke-width="0.15" textLength="42.70" lengthAdjust="spacingAndGlyphs">German</text>
</svg>
</body></html>
